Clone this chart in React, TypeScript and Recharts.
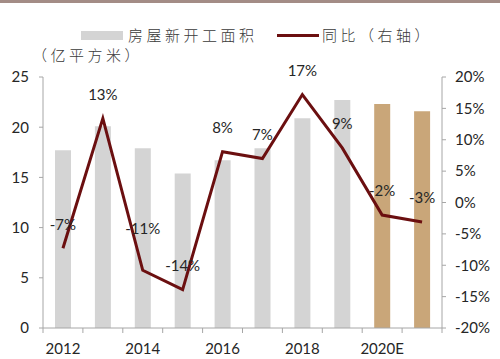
import { ComposedChart, Bar, Line, XAxis, YAxis, Cell, LabelList } from 'recharts';

const years = ['2012', '2013', '2014', '2015', '2016', '2017', '2018', '2019', '2020E', '2021E'];
const newStarts = [17.7, 20.1, 17.9, 15.4, 16.7, 17.9, 20.9, 22.7, 22.3, 21.6];
const yoy = [-7.3, 13.4, -10.8, -13.9, 8.1, 7.0, 17.2, 8.7, -2.0, -3.1];
const yoyLabels = ['-7%', '13%', '-11%', '-14%', '8%', '7%', '17%', '9%', '-2%', '-3%'];
const isForecast = [false, false, false, false, false, false, false, false, true, true];
const leftTicks = [0, 5, 10, 15, 20, 25];
const rightTicks = [-20, -15, -10, -5, 0, 5, 10, 15, 20];

const data = years.map((year, i) => ({
  year,
  area: newStarts[i],
  yoy: yoy[i],
  label: yoyLabels[i],
}));

const FONT = 'Lato, "Noto Sans CJK SC", sans-serif';
const CJK = '"Noto Sans CJK SC", sans-serif';
const TEXT = '#262626';
const CJK_TEXT = '#3a3a3a';
const AXIS = '#a6a6a6';
const GREY_BAR = '#d4d4d4';
const TAN_BAR = '#c9a679';
const LINE = '#6b0f10';

const W = 500;
const H = 359;
const LEFT_W = 43;
const RIGHT_W = 58;
const band = (W - LEFT_W - RIGHT_W) / years.length;

function YearTick(props: any) {
  const { x, y, index, payload } = props;
  const left = x - band / 2;
  return (
    <g>
      <line x1={left} x2={left} y1={y} y2={y + 5} stroke={AXIS} />
      {index === years.length - 1 && (
        <line x1={left + band} x2={left + band} y1={y} y2={y + 5} stroke={AXIS} />
      )}
      {index % 2 === 0 && (
        <text x={x} y={y + 21} dy="0.35em" textAnchor="middle" fill={TEXT} fontSize={15} fontFamily={FONT}>
          {payload.value}
        </text>
      )}
    </g>
  );
}

// -11% was nudged up in the original
function YoyLabel(props: any) {
  const { x, y, index, value } = props;
  const lift = index === 2 ? 42 : 24;
  return (
    <text x={x} y={y - lift} dy="0.35em" textAnchor="middle" fill={TEXT} fontSize={15} fontFamily={FONT}>
      {value}
    </text>
  );
}

const cjkText = {
  position: 'absolute' as const,
  fontSize: 15,
  fontFamily: CJK,
  fontWeight: 300,
  color: CJK_TEXT,
  lineHeight: '22px',
  letterSpacing: 3.5,
  whiteSpace: 'nowrap' as const,
};

export default function App() {
  return (
    <div style={{ position: 'absolute', left: 0, top: 0, width: W, height: H, background: '#fff' }}>
      <div style={{ position: 'absolute', left: 0, top: 0, width: W, height: 3, background: '#a38c86' }} />
      <div style={{ position: 'absolute', left: 81, top: 31, width: 42, height: 9, background: GREY_BAR }} />
      <div style={{ ...cjkText, left: 128, top: 24 }}>房屋新开工面积</div>
      <div style={{ position: 'absolute', left: 277, top: 34, width: 42, height: 3, background: LINE }} />
      <div style={{ ...cjkText, left: 322, top: 24 }}>同比（右轴）</div>
      <div style={{ ...cjkText, left: 32, top: 44 }}>（亿平方米）</div>
      <ComposedChart
        width={W}
        height={H}
        data={data}
        margin={{ top: 77, right: 0, bottom: 0, left: 0 }}
        style={{ position: 'absolute', left: 0, top: 0 }}
      >
        <XAxis
          dataKey="year"
          xAxisId="x"
          height={31}
          interval={0}
          tickLine={false}
          tickSize={0}
          tickMargin={0}
          axisLine={{ stroke: AXIS }}
          tick={<YearTick />}
        />
        <YAxis
          yAxisId="left"
          orientation="left"
          width={LEFT_W}
          domain={[0, 25]}
          ticks={leftTicks}
          interval={0}
          axisLine={{ stroke: AXIS }}
          tickLine={{ stroke: AXIS }}
          tickSize={4}
          tickMargin={10}
          tick={{ fill: TEXT, fontSize: 15, fontFamily: FONT }}
        />
        <YAxis
          yAxisId="right"
          orientation="right"
          width={RIGHT_W}
          domain={[-20, 20]}
          ticks={rightTicks}
          interval={0}
          tickFormatter={(v: number) => `${v}%`}
          axisLine={{ stroke: AXIS }}
          tickLine={{ stroke: AXIS }}
          tickSize={4}
          tickMargin={9}
          tick={{ fill: TEXT, fontSize: 15, fontFamily: FONT }}
        />
        <Bar dataKey="area" xAxisId="x" yAxisId="left" barSize={16} isAnimationActive={false}>
          {data.map((d, i) => (
            <Cell key={d.year} fill={isForecast[i] ? TAN_BAR : GREY_BAR} />
          ))}
        </Bar>
        <Line
          dataKey="yoy"
          xAxisId="x"
          yAxisId="right"
          type="linear"
          stroke={LINE}
          strokeWidth={3}
          dot={false}
          isAnimationActive={false}
        >
          <LabelList dataKey="label" content={<YoyLabel />} />
        </Line>
      </ComposedChart>
    </div>
  );
}
